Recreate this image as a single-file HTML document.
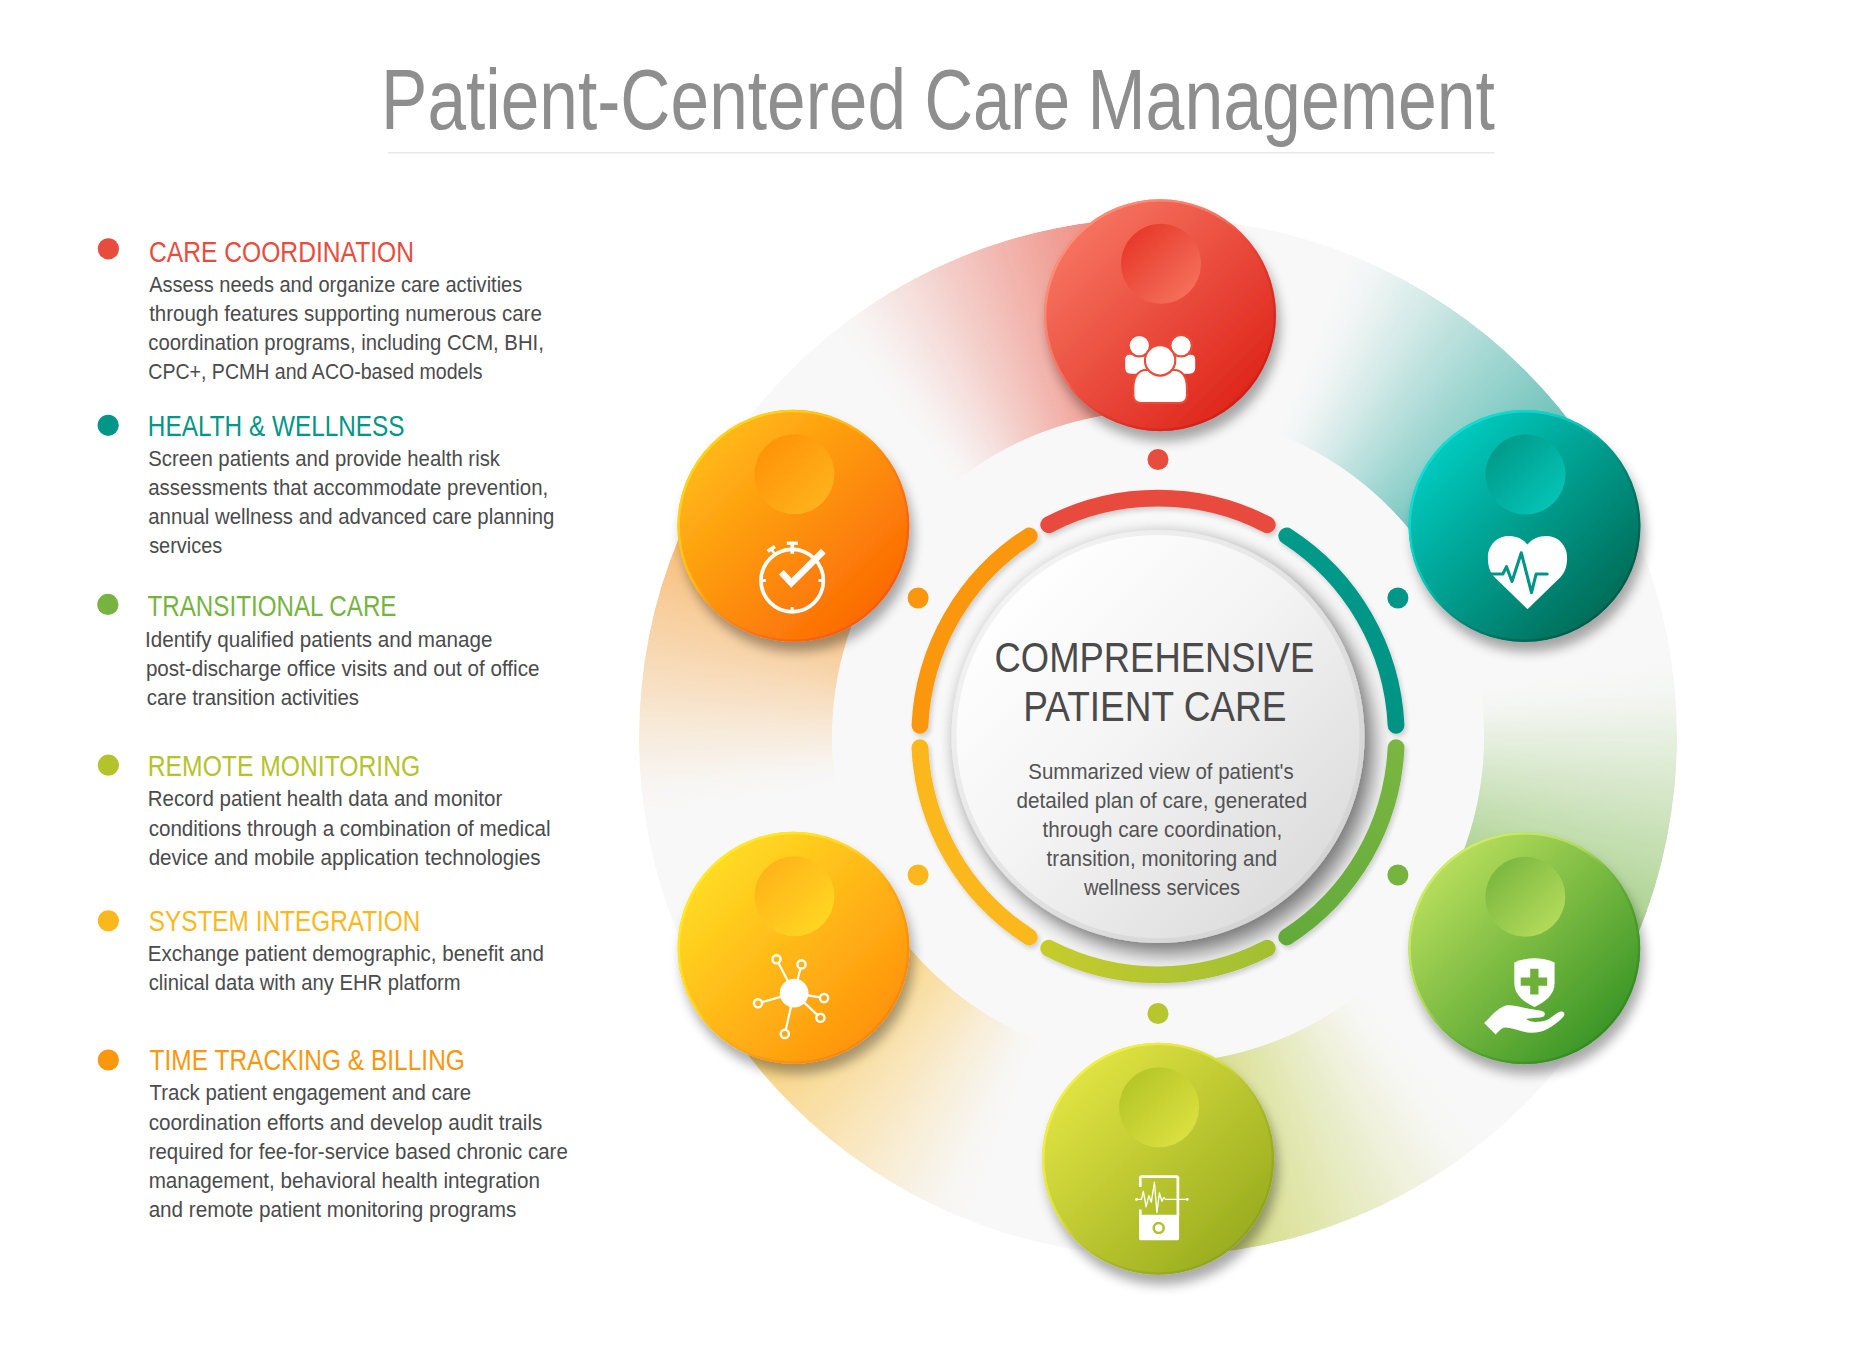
<!DOCTYPE html><html><head><meta charset="utf-8"><title>Patient-Centered Care Management</title>
<style>html,body{margin:0;padding:0;background:#fff}body{width:1874px;height:1350px;overflow:hidden;position:relative}svg{display:block}text{font-family:"Liberation Sans",sans-serif}.l{position:absolute;left:639px;top:217.5px;width:1038px;height:1038px;border-radius:50%}</style></head><body>
<div class="l" style="background:#f8f8f8"></div>
<div class="l" style="background:conic-gradient(from 0deg at 50% 50%, rgba(0,153,138,0) 0deg, rgba(0,153,138,0) 21.5deg, rgba(0,153,138,0.022) 24.5deg, rgba(0,153,138,0.07) 27.5deg, rgba(0,153,138,0.156) 32deg, rgba(0,153,138,0.27) 37.5deg, rgba(0,153,138,0.38) 43deg, rgba(0,153,138,0.72) 60deg, rgba(109,179,58,0) 60deg, rgba(109,179,58,0) 81.5deg, rgba(109,179,58,0.022) 84.5deg, rgba(109,179,58,0.07) 87.5deg, rgba(109,179,58,0.156) 92deg, rgba(109,179,58,0.27) 97.5deg, rgba(109,179,58,0.38) 103deg, rgba(109,179,58,0.72) 120deg, rgba(185,199,43,0) 120deg, rgba(185,199,43,0) 141.5deg, rgba(185,199,43,0.022) 144.5deg, rgba(185,199,43,0.07) 147.5deg, rgba(185,199,43,0.156) 152deg, rgba(185,199,43,0.27) 157.5deg, rgba(185,199,43,0.38) 163deg, rgba(185,199,43,0.72) 180deg, rgba(251,182,28,0) 180deg, rgba(251,182,28,0) 201.5deg, rgba(251,182,28,0.022) 204.5deg, rgba(251,182,28,0.07) 207.5deg, rgba(251,182,28,0.156) 212deg, rgba(251,182,28,0.27) 217.5deg, rgba(251,182,28,0.38) 223deg, rgba(251,182,28,0.72) 240deg, rgba(247,147,26,0) 240deg, rgba(247,147,26,0) 261.5deg, rgba(247,147,26,0.022) 264.5deg, rgba(247,147,26,0.07) 267.5deg, rgba(247,147,26,0.156) 272deg, rgba(247,147,26,0.27) 277.5deg, rgba(247,147,26,0.38) 283deg, rgba(247,147,26,0.72) 300deg, rgba(232,67,47,0) 300deg, rgba(232,67,47,0) 321.5deg, rgba(232,67,47,0.022) 324.5deg, rgba(232,67,47,0.07) 327.5deg, rgba(232,67,47,0.156) 332deg, rgba(232,67,47,0.27) 337.5deg, rgba(232,67,47,0.38) 343deg, rgba(232,67,47,0.72) 360deg);-webkit-mask-image:radial-gradient(circle closest-side,transparent 325.6px,#000 326.4px);mask-image:radial-gradient(circle closest-side,transparent 325.6px,#000 326.4px)"></div>
<svg width="1874" height="1350" viewBox="0 0 1874 1350" style="position:absolute;left:0;top:0">
<defs>
<filter id="fs" x="-30%" y="-30%" width="170%" height="170%"><feGaussianBlur in="SourceAlpha" stdDeviation="6"/><feOffset dx="4" dy="10"/><feComponentTransfer><feFuncA type="linear" slope="0.34"/></feComponentTransfer><feMerge><feMergeNode/><feMergeNode in="SourceGraphic"/></feMerge></filter>
<filter id="fd" x="-30%" y="-30%" width="170%" height="170%"><feGaussianBlur in="SourceAlpha" stdDeviation="10"/><feOffset dx="10" dy="12"/><feComponentTransfer><feFuncA type="linear" slope="0.47"/></feComponentTransfer><feMerge><feMergeNode/><feMergeNode in="SourceGraphic"/></feMerge></filter>
<filter id="fg" x="-20%" y="-20%" width="140%" height="140%"><feGaussianBlur stdDeviation="6"/></filter>
<filter id="fa" x="-10%" y="-10%" width="130%" height="130%"><feGaussianBlur in="SourceAlpha" stdDeviation="2.5"/><feOffset dx="2" dy="3"/><feComponentTransfer><feFuncA type="linear" slope="0.18"/></feComponentTransfer><feMerge><feMergeNode/><feMergeNode in="SourceGraphic"/></feMerge></filter>
<linearGradient id="g_red" gradientUnits="userSpaceOnUse" x1="1076.48" y1="231.68" x2="1243.52" y2="398.72"><stop offset="0" stop-color="#f6735f"/><stop offset="1" stop-color="#de261c"/></linearGradient>
<linearGradient id="d_red" gradientUnits="userSpaceOnUse" x1="1131" y1="233.7" x2="1191" y2="293.7"><stop offset="0" stop-color="#e8382a"/><stop offset="1" stop-color="#f4705b"/></linearGradient>
<linearGradient id="g_teal" gradientUnits="userSpaceOnUse" x1="1440.98" y1="442.48" x2="1608.02" y2="609.52"><stop offset="0" stop-color="#05cbc0"/><stop offset="1" stop-color="#006c58"/></linearGradient>
<linearGradient id="d_teal" gradientUnits="userSpaceOnUse" x1="1495.5" y1="444.5" x2="1555.5" y2="504.5"><stop offset="0" stop-color="#009a89"/><stop offset="1" stop-color="#05c4b7"/></linearGradient>
<linearGradient id="g_green" gradientUnits="userSpaceOnUse" x1="1440.78" y1="864.68" x2="1607.82" y2="1031.72"><stop offset="0" stop-color="#b8de5c"/><stop offset="1" stop-color="#3a9626"/></linearGradient>
<linearGradient id="d_green" gradientUnits="userSpaceOnUse" x1="1495.3" y1="866.7" x2="1555.3" y2="926.7"><stop offset="0" stop-color="#7ab83f"/><stop offset="1" stop-color="#b4db5b"/></linearGradient>
<linearGradient id="g_lime" gradientUnits="userSpaceOnUse" x1="1074.58" y1="1075.18" x2="1241.62" y2="1242.22"><stop offset="0" stop-color="#e0e342"/><stop offset="1" stop-color="#9aad1f"/></linearGradient>
<linearGradient id="d_lime" gradientUnits="userSpaceOnUse" x1="1129.1" y1="1077.2" x2="1189.1" y2="1137.2"><stop offset="0" stop-color="#b5c627"/><stop offset="1" stop-color="#dbe040"/></linearGradient>
<linearGradient id="g_yellow" gradientUnits="userSpaceOnUse" x1="709.98" y1="864.28" x2="877.02" y2="1031.32"><stop offset="0" stop-color="#ffdc24"/><stop offset="1" stop-color="#ff930b"/></linearGradient>
<linearGradient id="d_yellow" gradientUnits="userSpaceOnUse" x1="764.5" y1="866.3" x2="824.5" y2="926.3"><stop offset="0" stop-color="#ffb319"/><stop offset="1" stop-color="#ffd623"/></linearGradient>
<linearGradient id="g_orange" gradientUnits="userSpaceOnUse" x1="709.88" y1="442.28" x2="876.92" y2="609.32"><stop offset="0" stop-color="#ffb916"/><stop offset="1" stop-color="#fb6a03"/></linearGradient>
<linearGradient id="d_orange" gradientUnits="userSpaceOnUse" x1="764.4" y1="444.3" x2="824.4" y2="504.3"><stop offset="0" stop-color="#ff9308"/><stop offset="1" stop-color="#ffb21b"/></linearGradient>
<linearGradient id="r_red" gradientUnits="userSpaceOnUse" x1="1077.98" y1="233.176" x2="1242.02" y2="397.224"><stop offset="0" stop-color="#fb8f7a"/><stop offset="0.38" stop-color="#fb8f7a" stop-opacity="0.5"/><stop offset="0.5" stop-color="#fb8f7a" stop-opacity="0"/><stop offset="0.5" stop-color="#c91a14" stop-opacity="0"/><stop offset="0.72" stop-color="#c91a14" stop-opacity="0.3"/><stop offset="1" stop-color="#c91a14" stop-opacity="0.6"/></linearGradient>
<linearGradient id="r_teal" gradientUnits="userSpaceOnUse" x1="1442.48" y1="443.976" x2="1606.52" y2="608.024"><stop offset="0" stop-color="#10ded4"/><stop offset="0.38" stop-color="#10ded4" stop-opacity="0.5"/><stop offset="0.5" stop-color="#10ded4" stop-opacity="0"/><stop offset="0.5" stop-color="#00503f" stop-opacity="0"/><stop offset="0.72" stop-color="#00503f" stop-opacity="0.3"/><stop offset="1" stop-color="#00503f" stop-opacity="0.6"/></linearGradient>
<linearGradient id="r_green" gradientUnits="userSpaceOnUse" x1="1442.28" y1="866.176" x2="1606.32" y2="1030.22"><stop offset="0" stop-color="#cfeb6a"/><stop offset="0.38" stop-color="#cfeb6a" stop-opacity="0.5"/><stop offset="0.5" stop-color="#cfeb6a" stop-opacity="0"/><stop offset="0.5" stop-color="#2c8420" stop-opacity="0"/><stop offset="0.72" stop-color="#2c8420" stop-opacity="0.3"/><stop offset="1" stop-color="#2c8420" stop-opacity="0.6"/></linearGradient>
<linearGradient id="r_lime" gradientUnits="userSpaceOnUse" x1="1076.08" y1="1076.68" x2="1240.12" y2="1240.72"><stop offset="0" stop-color="#f0ef4c"/><stop offset="0.38" stop-color="#f0ef4c" stop-opacity="0.5"/><stop offset="0.5" stop-color="#f0ef4c" stop-opacity="0"/><stop offset="0.5" stop-color="#8a9d1a" stop-opacity="0"/><stop offset="0.72" stop-color="#8a9d1a" stop-opacity="0.3"/><stop offset="1" stop-color="#8a9d1a" stop-opacity="0.6"/></linearGradient>
<linearGradient id="r_yellow" gradientUnits="userSpaceOnUse" x1="711.476" y1="865.776" x2="875.524" y2="1029.82"><stop offset="0" stop-color="#ffe92c"/><stop offset="0.38" stop-color="#ffe92c" stop-opacity="0.5"/><stop offset="0.5" stop-color="#ffe92c" stop-opacity="0"/><stop offset="0.5" stop-color="#fb7a08" stop-opacity="0"/><stop offset="0.72" stop-color="#fb7a08" stop-opacity="0.3"/><stop offset="1" stop-color="#fb7a08" stop-opacity="0.6"/></linearGradient>
<linearGradient id="r_orange" gradientUnits="userSpaceOnUse" x1="711.376" y1="443.776" x2="875.424" y2="607.824"><stop offset="0" stop-color="#ffd41c"/><stop offset="0.38" stop-color="#ffd41c" stop-opacity="0.5"/><stop offset="0.5" stop-color="#ffd41c" stop-opacity="0"/><stop offset="0.5" stop-color="#f24e1f" stop-opacity="0"/><stop offset="0.72" stop-color="#f24e1f" stop-opacity="0.3"/><stop offset="1" stop-color="#f24e1f" stop-opacity="0.6"/></linearGradient>
<linearGradient id="g_disc" gradientUnits="userSpaceOnUse" x1="1008" y1="586.5" x2="1308" y2="886.5"><stop offset="0" stop-color="#ffffff"/><stop offset="0.45" stop-color="#f4f4f4"/><stop offset="1" stop-color="#dcdcdc"/></linearGradient>
<linearGradient id="g_bev" gradientUnits="userSpaceOnUse" x1="1008" y1="586.5" x2="1308" y2="886.5"><stop offset="0" stop-color="#f3f3f3"/><stop offset="1" stop-color="#d3d3d3"/></linearGradient>
<linearGradient id="a_green" gradientUnits="userSpaceOnUse" x1="1396" y1="740" x2="1280" y2="945"><stop offset="0" stop-color="#7ab640"/><stop offset="1" stop-color="#62aa3b"/></linearGradient>
<linearGradient id="a_lime" gradientUnits="userSpaceOnUse" x1="1040" y1="0" x2="1276" y2="0"><stop offset="0" stop-color="#c6cc2c"/><stop offset="1" stop-color="#a1bf33"/></linearGradient>
<linearGradient id="a_teal" gradientUnits="userSpaceOnUse" x1="1280" y1="530" x2="1396" y2="735"><stop offset="0" stop-color="#009a8a"/><stop offset="1" stop-color="#009384"/></linearGradient>
</defs>
<text id="w0" x="381.10" y="129.3" font-size="85" fill="#8e8e8e" textLength="524.90" lengthAdjust="spacingAndGlyphs">Patient-Centered</text>
<text id="w1" x="924.40" y="129.3" font-size="85" fill="#8e8e8e" textLength="145.68" lengthAdjust="spacingAndGlyphs">Care</text>
<text id="w2" x="1087.46" y="129.3" font-size="85" fill="#8e8e8e" textLength="407.56" lengthAdjust="spacingAndGlyphs">Management</text>
<rect x="388" y="152" width="1106.5" height="1.6" fill="#e9e9e9"/>
<circle cx="1158" cy="736.5" r="208.5" fill="#000" opacity="0.10" filter="url(#fg)"/>
<g filter="url(#fd)"><circle cx="1158" cy="736.5" r="206.5" fill="url(#g_bev)"/></g>
<circle cx="1158" cy="736.5" r="201.5" fill="url(#g_disc)"/>
<g fill="none" stroke-width="16.8" stroke-linecap="round" filter="url(#fa)">
<path d="M1267.30 524.74 A238.3 238.3 0 0 0 1048.70 524.74" stroke="#e84c3d"/>
<path d="M1396.04 725.27 A238.3 238.3 0 0 0 1286.74 535.97" stroke="url(#a_teal)"/>
<path d="M1286.74 937.03 A238.3 238.3 0 0 0 1396.04 747.73" stroke="url(#a_green)"/>
<path d="M1048.70 948.26 A238.3 238.3 0 0 0 1267.30 948.26" stroke="url(#a_lime)"/>
<path d="M919.96 747.73 A238.3 238.3 0 0 0 1029.26 937.03" stroke="#fbb81c"/>
<path d="M1029.26 535.97 A238.3 238.3 0 0 0 919.96 725.27" stroke="#fa970e"/>
</g>
<circle cx="1158.0" cy="459.5" r="10.5" fill="#e84c3d"/>
<circle cx="1397.9" cy="598.0" r="10.5" fill="#009688"/>
<circle cx="1397.9" cy="875.0" r="10.5" fill="#76b43f"/>
<circle cx="1158.0" cy="1013.5" r="10.5" fill="#b7c52e"/>
<circle cx="918.1" cy="875.0" r="10.5" fill="#fbb81c"/>
<circle cx="918.1" cy="598.0" r="10.5" fill="#fa970e"/>
<g filter="url(#fs)"><circle cx="1160" cy="315.2" r="116" fill="url(#g_red)"/></g>
<circle cx="1160" cy="315.2" r="114.8" fill="none" stroke="url(#r_red)" stroke-width="2.4"/>
<circle cx="1161" cy="263.7" r="40" fill="url(#d_red)"/>
<g filter="url(#fs)"><circle cx="1524.5" cy="526" r="116" fill="url(#g_teal)"/></g>
<circle cx="1524.5" cy="526" r="114.8" fill="none" stroke="url(#r_teal)" stroke-width="2.4"/>
<circle cx="1525.5" cy="474.5" r="40" fill="url(#d_teal)"/>
<g filter="url(#fs)"><circle cx="1524.3" cy="948.2" r="116" fill="url(#g_green)"/></g>
<circle cx="1524.3" cy="948.2" r="114.8" fill="none" stroke="url(#r_green)" stroke-width="2.4"/>
<circle cx="1525.3" cy="896.7" r="40" fill="url(#d_green)"/>
<g filter="url(#fs)"><circle cx="1158.1" cy="1158.7" r="116" fill="url(#g_lime)"/></g>
<circle cx="1158.1" cy="1158.7" r="114.8" fill="none" stroke="url(#r_lime)" stroke-width="2.4"/>
<circle cx="1159.1" cy="1107.2" r="40" fill="url(#d_lime)"/>
<g filter="url(#fs)"><circle cx="793.5" cy="947.8" r="116" fill="url(#g_yellow)"/></g>
<circle cx="793.5" cy="947.8" r="114.8" fill="none" stroke="url(#r_yellow)" stroke-width="2.4"/>
<circle cx="794.5" cy="896.3" r="40" fill="url(#d_yellow)"/>
<g filter="url(#fs)"><circle cx="793.4" cy="525.8" r="116" fill="url(#g_orange)"/></g>
<circle cx="793.4" cy="525.8" r="114.8" fill="none" stroke="url(#r_orange)" stroke-width="2.4"/>
<circle cx="794.4" cy="474.3" r="40" fill="url(#d_orange)"/>
<g id="ic_people" fill="#fff">
<path d="M1125.2 368 V359.4 Q1125.2 354.7 1129.6 354.7 H1160.2 V373.7 H1131.0 Q1125.2 373.7 1125.2 368 Z"/>
<circle cx="1139.3" cy="345.6" r="12" fill="#ea4a3a"/>
<circle cx="1139.3" cy="345.6" r="9.6"/>
<path d="M1195.2 368 V359.4 Q1195.2 354.7 1190.8 354.7 H1160.2 V373.7 H1189.4 Q1195.2 373.7 1195.2 368 Z"/>
<circle cx="1181.1" cy="345.6" r="12" fill="#ea4a3a"/>
<circle cx="1181.1" cy="345.6" r="9.6"/>
<g stroke="#ea4a3a" stroke-width="4.3" paint-order="stroke">
<path d="M1134.4 395.2 V388 C1134.4 378 1138.5 371.1 1146 371.1 H1174.3 C1181.8 371.1 1185.9 378 1185.9 388 V395.2 Q1185.9 401.9 1179.2 401.9 H1141.1 Q1134.4 401.9 1134.4 395.2 Z"/>
<circle cx="1160.1" cy="360.4" r="14.1"/>
</g></g>
<g id="ic_watch" fill="none" stroke="#fff">
<circle cx="792.2" cy="580.6" r="31.2" stroke-width="3.7"/>
<path d="M792.3 544 V553.8" stroke-width="3.6"/>
<path d="M786.8 543.2 H797.9" stroke-width="3.4"/>
<path d="M767.6 551.3 L775 546.6" stroke-width="3.6"/>
<path d="M771.5 549.5 L774.5 553.5" stroke-width="2.6"/>
<path d="M792.2 607 V610.5 M762.5 580.6 H766 M818.5 580.6 H822" stroke-width="3"/>
<path d="M781.4 572.3 L791.3 583 L823.4 551.2" stroke-width="6.6" stroke-linejoin="miter"/>
</g>
<g id="ic_heart">
<path d="M1527.5 609.2 L1494.4 576.9 C1489 571.5 1487.9 564 1487.9 557.6 C1487.9 545.5 1497 536.1 1508.5 536.1 C1516.5 536.1 1523.5 539.5 1527.5 544.6 C1531.5 539.5 1538.5 536.1 1546.5 536.1 C1558 536.1 1567.1 545.5 1567.1 557.6 C1567.1 564 1566 571.5 1560.6 576.9 Z" fill="#fff"/>
<path d="M1489 574 H1502.8 L1506.5 566.7 L1512 581.5 L1521.3 552.8 L1531.5 592.6 L1536.1 574 H1547.2" fill="none" stroke="#009586" stroke-width="3.1" stroke-linejoin="round" stroke-linecap="round"/>
</g>
<g id="ic_shield" fill="#fff">
<path d="M1514.3 962.4 Q1534.4 954.2 1554.6 962.4 L1554.6 983 C1554.6 994.5 1545.3 1002 1534.4 1007 C1523.5 1002 1514.3 994.5 1514.3 983 Z"/>
<path d="M1530.2 968.7 H1538.5 V977.4 H1547.2 V985.7 H1538.5 V994.6 H1530.2 V985.7 H1520.7 V977.4 H1530.2 Z" fill="#6fb03a"/>
<path d="M1484.1 1023.1 C1490 1017.5 1497 1008.5 1505.6 1005.6 C1510 1004.6 1517 1006 1522 1007.2 C1527 1008.4 1535 1009.8 1540 1010.6 C1543.5 1011.2 1545.2 1012.6 1544.8 1014.4 C1544.4 1016.4 1542.5 1017.2 1540 1017.4 L1528 1018.4 C1526.3 1018.6 1526.4 1019.6 1528 1020.2 C1531 1021.6 1534 1022.2 1538 1021.8 C1542 1021.4 1545.5 1021 1548.5 1019.2 L1558 1012.6 C1560.5 1011 1563 1011.2 1564 1012.9 C1565 1014.7 1564 1016.3 1562.5 1017.7 C1558 1022 1553 1026 1547.8 1028.7 C1543 1031.2 1537 1033 1530.7 1032.8 C1523 1032.6 1514 1028 1505.6 1027.6 C1502.5 1027.6 1500.5 1029.6 1498.5 1031.6 L1495.6 1034.6 Z"/>
</g>
<g id="ic_device">
<rect x="1139.1" y="1214.8" width="40" height="25.4" rx="1.4" fill="#fff"/>
<path d="M1140.3 1187 V1177.8 Q1140.3 1176.6 1141.5 1176.6 H1176.7 Q1177.9 1176.6 1177.9 1177.8 V1216 M1140.3 1209.6 V1216" fill="none" stroke="#fff" stroke-width="2.7"/>
<circle cx="1158.7" cy="1228.1" r="5" fill="#fff" stroke="#afc126" stroke-width="2.5"/>
<path d="M1136.5 1199.4 H1141.5 L1143.3 1191.1 L1146.1 1206.9 L1148.9 1195.7 L1151.3 1202.2 L1154.4 1182.2 L1156.9 1212.4 L1159.4 1193 L1161.9 1201.3 L1163.7 1197.6 L1165.6 1199.4 H1187.2" fill="none" stroke="#fff" stroke-width="1.35" stroke-linejoin="round"/>
<circle cx="1136.5" cy="1199.4" r="1.4" fill="#fff"/><circle cx="1187.2" cy="1199.4" r="1.4" fill="#fff"/>
</g>
<g id="ic_hub" stroke="#fff" fill="none">
<path d="M794.1 993.1 L778.3 962.8" stroke-width="2.2"/>
<path d="M794.1 993.1 L800.5 968.3" stroke-width="2.2"/>
<path d="M794.1 993.1 L820.2 997.4" stroke-width="2.2"/>
<path d="M794.1 993.1 L817.5 1015.1" stroke-width="2.2"/>
<path d="M794.1 993.1 L785.7 1030.0" stroke-width="2.2"/>
<path d="M794.1 993.1 L761.8 1002.2" stroke-width="2.2"/>
<circle cx="776.5" cy="959.3" r="4.1" stroke-width="2.4"/>
<circle cx="801.5" cy="964.4" r="4.1" stroke-width="2.4"/>
<circle cx="824.1" cy="998.1" r="4.1" stroke-width="2.4"/>
<circle cx="820.4" cy="1017.8" r="4.1" stroke-width="2.4"/>
<circle cx="784.8" cy="1033.9" r="4.1" stroke-width="2.4"/>
<circle cx="758.0" cy="1003.3" r="4.1" stroke-width="2.4"/>
<circle cx="794.1" cy="993.1" r="14.4" fill="#fff" stroke="none"/>
</g>
<circle cx="108.4" cy="248.8" r="10.6" fill="#e84c3d"/>
<circle cx="108.2" cy="425.3" r="10.6" fill="#009688"/>
<circle cx="107.9" cy="604.4" r="10.6" fill="#76b43f"/>
<circle cx="108.4" cy="765.2" r="10.6" fill="#b4c32c"/>
<circle cx="108.4" cy="920.8" r="10.6" fill="#fbb81c"/>
<circle cx="108.4" cy="1060.0" r="10.6" fill="#fa970e"/>
<text id="t0" class="h" x="148.96" y="261.6" font-size="28.6" fill="#e84c3d" textLength="265.06" lengthAdjust="spacingAndGlyphs">CARE COORDINATION</text>
<text id="t1" class="h" x="147.82" y="435.7" font-size="28.6" fill="#009688" textLength="256.78" lengthAdjust="spacingAndGlyphs">HEALTH &amp; WELLNESS</text>
<text id="t2" class="h" x="147.52" y="615.9" font-size="28.6" fill="#76b43f" textLength="248.98" lengthAdjust="spacingAndGlyphs">TRANSITIONAL CARE</text>
<text id="t3" class="h" x="147.80" y="776.0" font-size="28.6" fill="#b4c32c" textLength="272.46" lengthAdjust="spacingAndGlyphs">REMOTE MONITORING</text>
<text id="t4" class="h" x="148.70" y="931.2" font-size="28.6" fill="#fbb81c" textLength="271.70" lengthAdjust="spacingAndGlyphs">SYSTEM INTEGRATION</text>
<text id="t5" class="h" x="149.60" y="1070.0" font-size="28.6" fill="#fa970e" textLength="315.28" lengthAdjust="spacingAndGlyphs">TIME TRACKING &amp; BILLING</text>
<text id="t6" class="b" x="149.16" y="292.0" font-size="21.8" fill="#4b4b4c" textLength="373.12" lengthAdjust="spacingAndGlyphs">Assess needs and organize care activities</text>
<text id="t7" class="b" x="149.16" y="320.9" font-size="21.8" fill="#4b4b4c" textLength="392.62" lengthAdjust="spacingAndGlyphs">through features supporting numerous care</text>
<text id="t8" class="b" x="148.26" y="349.7" font-size="21.8" fill="#4b4b4c" textLength="395.56" lengthAdjust="spacingAndGlyphs">coordination programs, including CCM, BHI,</text>
<text id="t9" class="b" x="148.26" y="378.5" font-size="21.8" fill="#4b4b4c" textLength="334.28" lengthAdjust="spacingAndGlyphs">CPC+, PCMH and ACO-based models</text>
<text id="t10" class="b" x="148.26" y="465.7" font-size="21.8" fill="#4b4b4c" textLength="351.76" lengthAdjust="spacingAndGlyphs">Screen patients and provide health risk</text>
<text id="t11" class="b" x="148.26" y="494.6" font-size="21.8" fill="#4b4b4c" textLength="399.94" lengthAdjust="spacingAndGlyphs">assessments that accommodate prevention,</text>
<text id="t12" class="b" x="148.26" y="523.5" font-size="21.8" fill="#4b4b4c" textLength="406.04" lengthAdjust="spacingAndGlyphs">annual wellness and advanced care planning</text>
<text id="t13" class="b" x="149.16" y="552.8" font-size="21.8" fill="#4b4b4c" textLength="73.00" lengthAdjust="spacingAndGlyphs">services</text>
<text id="t14" class="b" x="144.98" y="646.7" font-size="21.8" fill="#4b4b4c" textLength="347.42" lengthAdjust="spacingAndGlyphs">Identify qualified patients and manage</text>
<text id="t15" class="b" x="145.88" y="676.0" font-size="21.8" fill="#4b4b4c" textLength="393.54" lengthAdjust="spacingAndGlyphs">post-discharge office visits and out of office</text>
<text id="t16" class="b" x="146.78" y="704.5" font-size="21.8" fill="#4b4b4c" textLength="212.24" lengthAdjust="spacingAndGlyphs">care transition activities</text>
<text id="t17" class="b" x="147.74" y="806.4" font-size="21.8" fill="#4b4b4c" textLength="354.52" lengthAdjust="spacingAndGlyphs">Record patient health data and monitor</text>
<text id="t18" class="b" x="148.64" y="836.0" font-size="21.8" fill="#4b4b4c" textLength="401.90" lengthAdjust="spacingAndGlyphs">conditions through a combination of medical</text>
<text id="t19" class="b" x="148.64" y="864.8" font-size="21.8" fill="#4b4b4c" textLength="391.90" lengthAdjust="spacingAndGlyphs">device and mobile application technologies</text>
<text id="t20" class="b" x="147.74" y="961.2" font-size="21.8" fill="#4b4b4c" textLength="396.18" lengthAdjust="spacingAndGlyphs">Exchange patient demographic, benefit and</text>
<text id="t21" class="b" x="148.64" y="990.4" font-size="21.8" fill="#4b4b4c" textLength="312.04" lengthAdjust="spacingAndGlyphs">clinical data with any EHR platform</text>
<text id="t22" class="b" x="149.54" y="1100.0" font-size="21.8" fill="#4b4b4c" textLength="321.62" lengthAdjust="spacingAndGlyphs">Track patient engagement and care</text>
<text id="t23" class="b" x="148.64" y="1130.0" font-size="21.8" fill="#4b4b4c" textLength="393.76" lengthAdjust="spacingAndGlyphs">coordination efforts and develop audit trails</text>
<text id="t24" class="b" x="148.64" y="1158.8" font-size="21.8" fill="#4b4b4c" textLength="419.14" lengthAdjust="spacingAndGlyphs">required for fee-for-service based chronic care</text>
<text id="t25" class="b" x="148.64" y="1188.0" font-size="21.8" fill="#4b4b4c" textLength="391.28" lengthAdjust="spacingAndGlyphs">management, behavioral health integration</text>
<text id="t26" class="b" x="148.64" y="1217.2" font-size="21.8" fill="#4b4b4c" textLength="367.76" lengthAdjust="spacingAndGlyphs">and remote patient monitoring programs</text>
<text id="t27" class="ch" x="994.56" y="671.5" font-size="42.6" fill="#4a4a4a" textLength="319.72" lengthAdjust="spacingAndGlyphs">COMPREHENSIVE</text>
<text id="t28" class="ch" x="1023.30" y="720.9" font-size="42.6" fill="#4a4a4a" textLength="263.12" lengthAdjust="spacingAndGlyphs">PATIENT CARE</text>
<text id="t29" class="cb" x="1028.34" y="778.9" font-size="21.8" fill="#535354" textLength="265.42" lengthAdjust="spacingAndGlyphs">Summarized view of patient's</text>
<text id="t30" class="cb" x="1016.60" y="808.1" font-size="21.8" fill="#535354" textLength="290.70" lengthAdjust="spacingAndGlyphs">detailed plan of care, generated</text>
<text id="t31" class="cb" x="1042.50" y="837.3" font-size="21.8" fill="#535354" textLength="239.80" lengthAdjust="spacingAndGlyphs">through care coordination,</text>
<text id="t32" class="cb" x="1046.62" y="866.0" font-size="21.8" fill="#535354" textLength="230.66" lengthAdjust="spacingAndGlyphs">transition, monitoring and</text>
<text id="t33" class="cb" x="1083.88" y="895.0" font-size="21.8" fill="#535354" textLength="156.14" lengthAdjust="spacingAndGlyphs">wellness services</text>
</svg></body></html>
